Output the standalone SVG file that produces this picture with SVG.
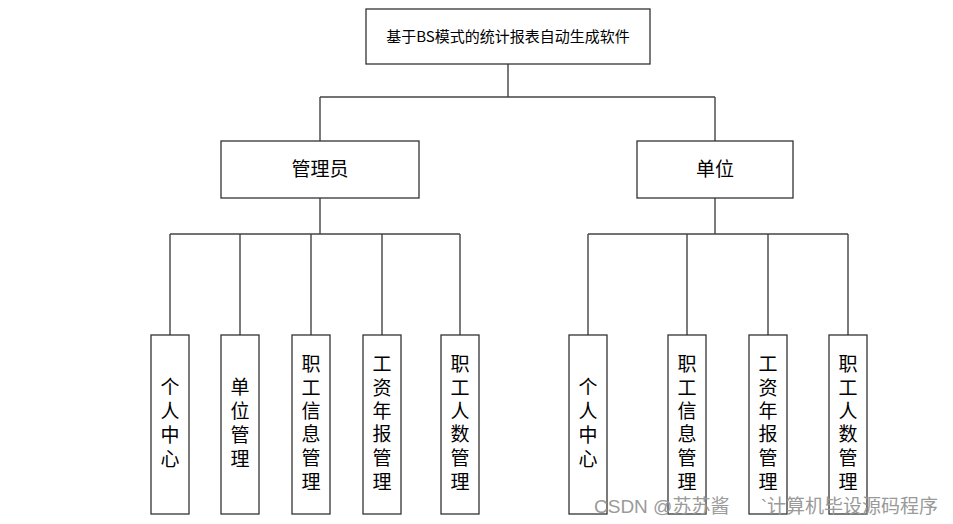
<svg xmlns="http://www.w3.org/2000/svg" width="953" height="524" viewBox="0 0 953 524">
<style>
.box{fill:#fff;stroke:#333;stroke-width:1.3}
.ln{fill:none;stroke:#444;stroke-width:1.4}
.t{font-family:"Noto Sans CJK SC","Liberation Sans",sans-serif;fill:#000;text-anchor:middle}
.v{font-size:19px}
.wm{font-family:"Liberation Sans","Noto Sans CJK SC",sans-serif;font-size:19px;fill:#9a9a9a}
</style>
<rect width="953" height="524" fill="#fff"/>
<g id="connectors">
<path class="ln" d="M508 64V97M320 97H715M320 97V141M715 97V141"/>
<path class="ln" d="M320 198V234M170 234H460M170 234V335M240 234V335M311 234V335M382 234V335M460 234V335"/>
<path class="ln" d="M715 198V234M588 234H848M588 234V335M687 234V335M768 234V335M848 234V335"/>
</g>
<g id="root"><rect class="box" x="366" y="9" width="284" height="55"/><text class="t" x="508" y="42" font-size="15">基于BS模式的统计报表自动生成软件</text></g>
<g id="admin"><rect class="box" x="221" y="141" width="198" height="57"/><text class="t" x="320" y="176" font-size="19">管理员</text></g>
<g id="unit"><rect class="box" x="637" y="141" width="156" height="57"/><text class="t" x="715" y="176" font-size="19">单位</text></g>
<g id="a1"><rect class="box" x="151" y="335" width="38" height="179"/><text class="t v" x="170"><tspan x="170" y="394">个</tspan><tspan x="170" y="418">人</tspan><tspan x="170" y="442">中</tspan><tspan x="170" y="466">心</tspan></text></g>
<g id="a2"><rect class="box" x="221" y="335" width="38" height="179"/><text class="t v" x="240"><tspan x="240" y="394">单</tspan><tspan x="240" y="418">位</tspan><tspan x="240" y="442">管</tspan><tspan x="240" y="466">理</tspan></text></g>
<g id="a3"><rect class="box" x="292" y="335" width="38" height="179"/><text class="t v"><tspan x="311" y="371">职</tspan><tspan x="311" y="395">工</tspan><tspan x="311" y="418">信</tspan><tspan x="311" y="441">息</tspan><tspan x="311" y="465">管</tspan><tspan x="311" y="489">理</tspan></text></g>
<g id="a4"><rect class="box" x="363" y="335" width="38" height="179"/><text class="t v"><tspan x="382" y="371">工</tspan><tspan x="382" y="395">资</tspan><tspan x="382" y="418">年</tspan><tspan x="382" y="441">报</tspan><tspan x="382" y="465">管</tspan><tspan x="382" y="489">理</tspan></text></g>
<g id="a5"><rect class="box" x="441" y="335" width="38" height="179"/><text class="t v"><tspan x="460" y="371">职</tspan><tspan x="460" y="395">工</tspan><tspan x="460" y="418">人</tspan><tspan x="460" y="441">数</tspan><tspan x="460" y="465">管</tspan><tspan x="460" y="489">理</tspan></text></g>
<g id="u1"><rect class="box" x="569" y="335" width="38" height="179"/><text class="t v"><tspan x="588" y="394">个</tspan><tspan x="588" y="418">人</tspan><tspan x="588" y="442">中</tspan><tspan x="588" y="466">心</tspan></text></g>
<g id="u2"><rect class="box" x="668" y="335" width="38" height="179"/><text class="t v"><tspan x="687" y="371">职</tspan><tspan x="687" y="395">工</tspan><tspan x="687" y="418">信</tspan><tspan x="687" y="441">息</tspan><tspan x="687" y="465">管</tspan><tspan x="687" y="489">理</tspan></text></g>
<g id="u3"><rect class="box" x="749" y="335" width="38" height="179"/><text class="t v"><tspan x="768" y="371">工</tspan><tspan x="768" y="395">资</tspan><tspan x="768" y="418">年</tspan><tspan x="768" y="441">报</tspan><tspan x="768" y="465">管</tspan><tspan x="768" y="489">理</tspan></text></g>
<g id="u4"><rect class="box" x="829" y="335" width="38" height="179"/><text class="t v"><tspan x="848" y="371">职</tspan><tspan x="848" y="395">工</tspan><tspan x="848" y="418">人</tspan><tspan x="848" y="441">数</tspan><tspan x="848" y="465">管</tspan><tspan x="848" y="489">理</tspan></text></g>
<text class="wm" x="594" y="513">CSDN @苏苏酱</text>
<text class="wm" x="938" y="513" text-anchor="end">`计算机毕设源码程序</text>
</svg>
